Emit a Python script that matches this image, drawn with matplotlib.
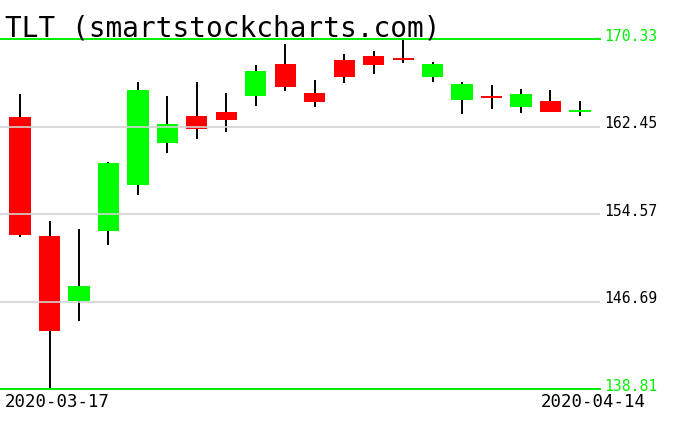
import matplotlib
matplotlib.use('Agg')
import matplotlib.pyplot as plt

# TLT daily candles, 2020-03-17 .. 2020-04-14
dates = ['2020-03-17', '2020-03-18', '2020-03-19', '2020-03-20', '2020-03-23',
         '2020-03-24', '2020-03-25', '2020-03-26', '2020-03-27', '2020-03-30',
         '2020-03-31', '2020-04-01', '2020-04-02', '2020-04-03', '2020-04-06',
         '2020-04-07', '2020-04-08', '2020-04-09', '2020-04-13', '2020-04-14']
opens = [163.31, 152.59, 146.76, 153.01, 157.21, 160.99, 163.40, 163.76, 165.22, 168.08,
         165.47, 168.44, 168.80, 168.53, 166.93, 164.86, 165.08, 164.23, 164.75, 163.80]
highs = [165.38, 153.97, 153.22, 159.25, 166.46, 165.20, 166.46, 165.47, 167.99, 169.88,
         166.64, 168.98, 169.25, 170.33, 168.26, 166.46, 166.19, 165.83, 165.76, 164.75]
lows = [152.50, 138.81, 144.96, 151.80, 156.31, 160.09, 161.35, 161.98, 164.32, 165.67,
        164.23, 166.34, 167.20, 168.14, 166.48, 163.60, 164.05, 163.69, 163.78, 163.42]
closes = [152.68, 144.06, 148.09, 159.16, 165.76, 162.67, 162.25, 163.06, 167.45, 166.03,
          164.68, 166.93, 168.02, 168.50, 168.08, 166.28, 165.05, 165.38, 163.78, 163.82]

grid_levels = [146.69, 154.57, 162.45]
lo, hi = 138.81, 170.33

MONO = 'DejaVu Sans Mono'
W, H = 676, 431
fig = plt.figure(figsize=(W / 100, H / 100), dpi=100)
# plot area: x 0..600 px, y 40..390 px
ax = fig.add_axes([0, 1 - 390 / H, 600 / W, 350 / H])
ax.set_xlim(-0.68, 19.68)
ax.set_ylim(lo, hi)
ax.axis('off')

bw = 0.72
for i in range(len(dates)):
    o, h, l, c = opens[i], highs[i], lows[i], closes[i]
    col = '#00ff00' if c >= o else '#ff0000'
    ax.vlines(i, l, h, color='black', lw=1.4, zorder=1, clip_on=False)
    if abs(c - o) < 0.1:
        ax.hlines((o + c) / 2, i - bw / 2, i + bw / 2, color=col, lw=1.4, zorder=2)
    else:
        ax.bar(i, abs(c - o), bottom=min(o, c), width=bw, color=col, zorder=2)

lab_dy = -0.09  # baseline sits just under the level line
for g in grid_levels:
    ax.axhline(g, color='#d3d3d3', lw=1.2, zorder=3)
    ax.text(1.007, g + lab_dy, '%.2f' % g, transform=ax.get_yaxis_transform(),
            ha='left', va='baseline', fontsize=10.6, color='black', family=MONO)
for g in [lo, hi]:
    ax.axhline(g, color='#00ee00', lw=1.4, zorder=3, clip_on=False)
    ax.text(1.007, g + lab_dy, '%.2f' % g, transform=ax.get_yaxis_transform(),
            ha='left', va='baseline', fontsize=10.6, color='#00ee00', family=MONO)

fig.text(5 / W, 1 - 37 / H, 'TLT (smartstockcharts.com)', fontsize=20,
         ha='left', va='baseline', color='black', family=MONO)
fig.text(5 / W, 1 - 407 / H, dates[0], fontsize=12.5, ha='left', va='baseline', family=MONO)
fig.text(646 / W, 1 - 407 / H, dates[-1], fontsize=12.5, ha='right', va='baseline',
         family=MONO)

plt.savefig('out.png', dpi=100)
